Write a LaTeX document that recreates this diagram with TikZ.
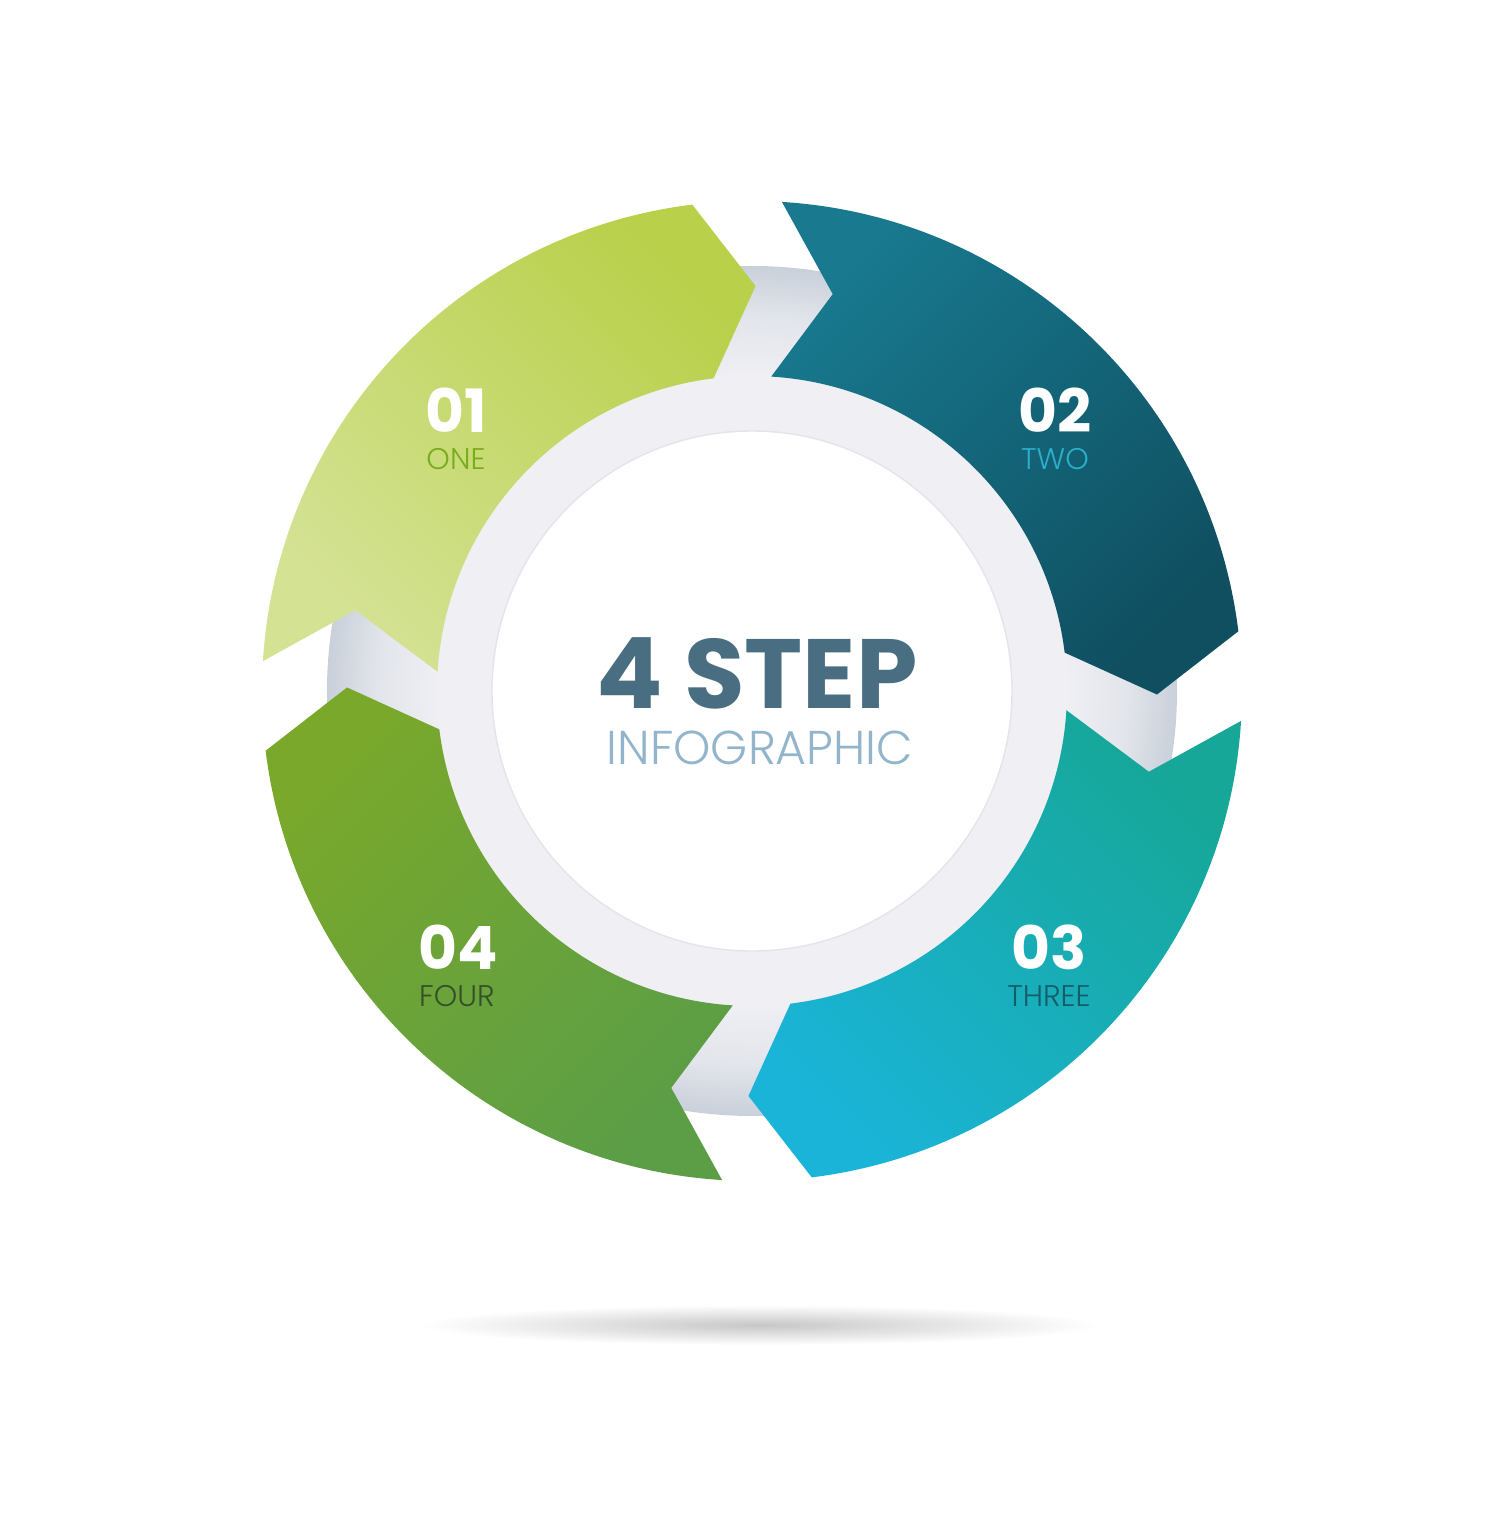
\documentclass[tikz,border=0pt]{standalone}
\usepackage{fontspec}
\setmainfont{Poppins}
\newfontfamily\poplight{Poppins Light}
\usetikzlibrary{calc}
\definecolor{ringlight}{HTML}{EFEFF4}
\definecolor{ringmid}{HTML}{E2E5EB}
\definecolor{ringdark}{HTML}{C9D0DA}
\definecolor{oneA}{HTML}{B8D04A}
\definecolor{oneB}{HTML}{D4E294}
\definecolor{twoA}{HTML}{18798F}
\definecolor{twoB}{HTML}{0F4F60}
\definecolor{threeA}{HTML}{16A799}
\definecolor{threeB}{HTML}{1AB4D8}
\definecolor{fourA}{HTML}{79A82B}
\definecolor{fourB}{HTML}{5C9E46}
\definecolor{oneword}{HTML}{78AC1C}
\definecolor{twoword}{HTML}{2AAECB}
\definecolor{threeword}{HTML}{155C69}
\definecolor{fourword}{HTML}{344F2A}
\definecolor{titleblue}{HTML}{4A6E81}
\definecolor{subblue}{HTML}{93B5CB}
\pgfdeclareradialshading{ringshade}{\pgfpoint{0bp}{0bp}}{color(0bp)=(ringlight); color(18.5bp)=(ringlight); color(22bp)=(ringmid); color(25bp)=(ringdark); color(50bp)=(ringdark)}
\def\steparrow[#1](#2:#3){\shade[#1] (#2:4.9) arc (#2:#3:4.9) -- ({#3-7.5}:4.05) -- (#3:3.15) arc (#3:#2:3.15) -- ({#2-8}:4.05) -- cycle;}

\begin{document}
\begin{tikzpicture}[
	num/.style={inner sep=0pt, text=white, font=\fontsize{17}{17}\selectfont\bfseries},
	word/.style={inner sep=0pt, font=\fontsize{8.5}{8.5}\selectfont\poplight}]
			%%%%% START %%%%%
			\useasboundingbox (-7.52, -8.43) rectangle (7.48, 6.91);
			
			\shade[shading=ringshade] (0, 0) circle (4.25);
			\draw[draw=ringmid, fill=white] (0, 0) circle (2.6);
			
			\steparrow[top color=oneA, bottom color=oneB, shading angle=-45](176.5:97)
			\steparrow[top color=twoA, bottom color=twoB, shading angle=45](86.5:7)
			\steparrow[top color=threeA, bottom color=threeB, shading angle=-45](-3.5:-83)
			\steparrow[top color=fourA, bottom color=fourB, shading angle=45](-93.5:-173)
			
			\node[num] (n1) at (-2.96, 2.81) {01};
			\node[word, text=oneword] (w1) at (-2.96, 2.32) {ONE};
			\node[num] (n2) at (3.03, 2.81) {02};
			\node[word, text=twoword] (w2) at (3.03, 2.32) {TWO};
			\node[num] (n3) at (2.97, -2.56) {03};
			\node[word, text=threeword] (w3) at (2.97, -3.05) {THREE};
			\node[num] (n4) at (-2.94, -2.56) {04};
			\node[word, text=fourword] (w4) at (-2.95, -3.05) {FOUR};
			
			\node[inner sep=0pt, text=titleblue, font=\fontsize{28}{28}\selectfont\bfseries] (title) at (0.05, 0.18) {4 STEP};
			\node[inner sep=0pt, text=subblue, font=\fontsize{13.5}{13.5}\selectfont\poplight] (subtitle) at (0.08, -0.57) {INFOGRAPHIC};
			
			\shade[inner color=black!22, outer color=white] (0.08, -6.34) ellipse (3.4 and 0.2);
			%%%%% END %%%%%
\end{tikzpicture}
\end{document}
